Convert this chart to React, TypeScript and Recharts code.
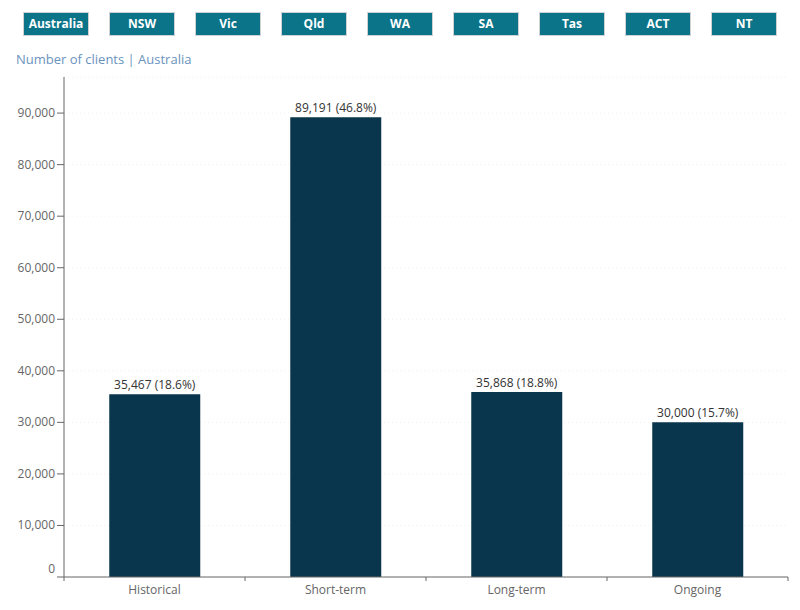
import React from 'react';
import { BarChart, Bar, XAxis, YAxis, CartesianGrid, LabelList } from 'recharts';

// regions shown as filter buttons
const regions = ['Australia', 'NSW', 'Vic', 'Qld', 'WA', 'SA', 'Tas', 'ACT', 'NT'];

// client categories and counts
const categories = ['Historical', 'Short-term', 'Long-term', 'Ongoing'];
const clients = [35467, 89191, 35868, 30000];
const shares = [18.6, 46.8, 18.8, 15.7];

const yTicks = [0, 10000, 20000, 30000, 40000, 50000, 60000, 70000, 80000, 90000];

const data = categories.map((c, i) => ({ name: c, value: clients[i], share: shares[i] }));

const FONT = '"Open Sans", "Noto Sans", sans-serif';
const BAND = (788 - 64) / categories.length;

const fmt = (v: number) => v.toLocaleString('en-US');

const XTick = (props: any) => {
  const { x, y, payload, index } = props;
  const left = x - BAND / 2;
  return (
    <g>
      <line x1={left} x2={left} y1={y - 8} y2={y - 4} stroke="#666" />
      {index === categories.length - 1 && (
        <line x1={x + BAND / 2} x2={x + BAND / 2} y1={y - 8} y2={y - 4} stroke="#666" />
      )}
      <text x={x} y={y + 9} textAnchor="middle" fontSize={12} fill="#666" fontFamily={FONT}>
        {payload.value}
      </text>
    </g>
  );
};

const YTick = (props: any) => {
  const { x, y, payload } = props;
  const dy = payload.value === 0 ? -8 : 0;
  return (
    <text x={x} y={y + dy} dy={4} textAnchor="end" fontSize={12} fill="#666" fontFamily={FONT}>
      {fmt(payload.value)}
    </text>
  );
};

const TopLabel = (props: any) => {
  const { x, y, width, index } = props;
  return (
    <text x={x + width / 2} y={y - 5} textAnchor="middle" fontSize={12} fill="#333" fontFamily={FONT}>
      {`${fmt(clients[index])} (${shares[index].toFixed(1)}%)`}
    </text>
  );
};

export default function App() {
  return (
    <div style={{ position: 'absolute', left: 0, top: 0, width: 800, height: 610, background: '#fff', fontFamily: FONT }}>
      {regions.map((r, i) => (
        <div
          key={r}
          style={{
            position: 'absolute',
            left: 23 + i * 86,
            top: 12,
            width: 64,
            height: 22,
            background: '#0b7489',
            border: '1px solid #cfd3d6',
            color: '#fff',
            fontSize: 12,
            fontWeight: 700,
            lineHeight: '22px',
            textAlign: 'center',
          }}
        >
          {r}
        </div>
      ))}
      <div style={{ position: 'absolute', left: 16, top: 50, fontSize: 13, color: '#6a93c0' }}>
        Number of clients | Australia
      </div>
      <div style={{ position: 'absolute', left: 0, top: 0 }}>
        <BarChart
          width={800}
          height={610}
          data={data}
          margin={{ top: 77, right: 12, bottom: 3, left: 0 }}
          barCategoryGap="25%"
        >
          <CartesianGrid vertical={false} stroke="#f0f0f0" strokeDasharray="1 3" />
          <XAxis
            dataKey="name"
            height={30}
            axisLine={{ stroke: '#666' }}
            tickLine={false}
            tick={<XTick />}
            interval={0}
          />
          <YAxis
            width={64}
            domain={[0, 97000]}
            ticks={yTicks}
            axisLine={{ stroke: '#666' }}
            tickLine={{ stroke: '#666' }}
            tickSize={7}
            tickMargin={2}
            tick={<YTick />}
          />
          <Bar dataKey="value" fill="#0a364d" isAnimationActive={false}>
            <LabelList dataKey="value" content={<TopLabel />} />
          </Bar>
        </BarChart>
      </div>
    </div>
  );
}
